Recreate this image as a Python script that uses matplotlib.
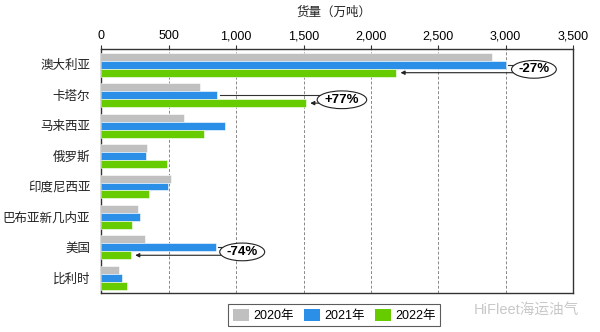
import numpy as np
import matplotlib.pyplot as plt
from matplotlib.patches import Patch

plt.rcParams['font.family'] = ['Liberation Sans', 'Noto Sans CJK SC', 'DejaVu Sans']

# data (万吨)
countries = ['澳大利亚', '卡塔尔', '马来西亚', '俄罗斯', '印度尼西亚', '巴布亚新几内亚', '美国', '比利时']
v2020 = [2900, 730, 615, 340, 515, 270, 320, 127]
v2021 = [3000, 860, 920, 330, 497, 290, 848, 152]
v2022 = [2190, 1520, 762, 488, 353, 226, 221, 187]
years = ['2020年', '2021年', '2022年']
colors = ['#c0c0c0', '#2b8fe8', '#66cc00']

# annotations: (country index, label)
notes = [(0, '-27%'), (1, '+77%'), (6, '-74%')]
note_x = [3210, 1785, 1045]

fig = plt.figure(figsize=(6, 3.32), dpi=100)
ax = fig.add_axes([0.169, 0.1175, 0.786, 0.735])

y = np.arange(len(countries))
h = 0.26
for k, vals in enumerate([v2020, v2021, v2022]):
    ax.barh(y + (k - 1) * h, vals, height=h, color=colors[k],
            edgecolor='white', linewidth=0.4, zorder=3)

ax.set_xlim(0, 3500)
ax.set_ylim(len(countries) - 0.5, -0.52)
ax.set_xticks(np.arange(0, 3501, 500))
ax.set_xticklabels(['{:,}'.format(v) for v in range(0, 3501, 500)])
ax.xaxis.tick_top()
ax.tick_params(axis='x', direction='out', length=3, width=0.8, labelsize=9, pad=2, color='#333333')
ax.set_yticks(y)
ax.set_yticklabels(countries, fontsize=9, color='#222222')
ax.tick_params(axis='y', length=0, pad=8)
ax.grid(axis='x', linestyle=(0, (3, 2)), color='#888888', linewidth=0.7, zorder=0)
for s in ax.spines.values():
    s.set_color('#333333')
    s.set_linewidth(1.0)

fig.text(0.557, 0.962, '货量（万吨）', fontsize=9, ha='center', va='center', color='#222222')

for (i, lab), tx in zip(notes, note_x):
    yb = y[i]
    yg = y[i] + h
    ty = (yb + yg) / 2 + 0.02
    # line from blue bar end toward the label
    ax.plot([v2021[i] + 20, tx - 110], [yb, yb], color='#333333', lw=0.8, zorder=4)
    ax.annotate('', xy=(v2022[i] + 30, yg), xytext=(tx - 140, yg),
                arrowprops=dict(arrowstyle='-|>', color='#222222', lw=0.8,
                                mutation_scale=6, shrinkA=0, shrinkB=0), zorder=4)
    ax.text(tx, ty, lab, fontsize=9.5, fontweight='bold', ha='center', va='center', zorder=5,
            bbox=dict(boxstyle='ellipse,pad=0.02', fc='white', ec='#222222', lw=0.8))

handles = [Patch(facecolor=c, edgecolor='none') for c in colors]
leg = fig.legend(handles, years, loc='center', bbox_to_anchor=(0.557, 0.05), ncol=3,
                 fontsize=9, frameon=True, fancybox=False, handlelength=1.3,
                 handleheight=1.1, handletextpad=0.35, columnspacing=0.8,
                 borderpad=0.35)
leg.get_frame().set_edgecolor('#333333')
leg.get_frame().set_linewidth(0.8)

fig.text(0.878, 0.068, 'HiFleet海运油气', fontsize=10.5, ha='center', va='center', color='#c8c8c8')

fig.savefig('out.png', dpi=100)
